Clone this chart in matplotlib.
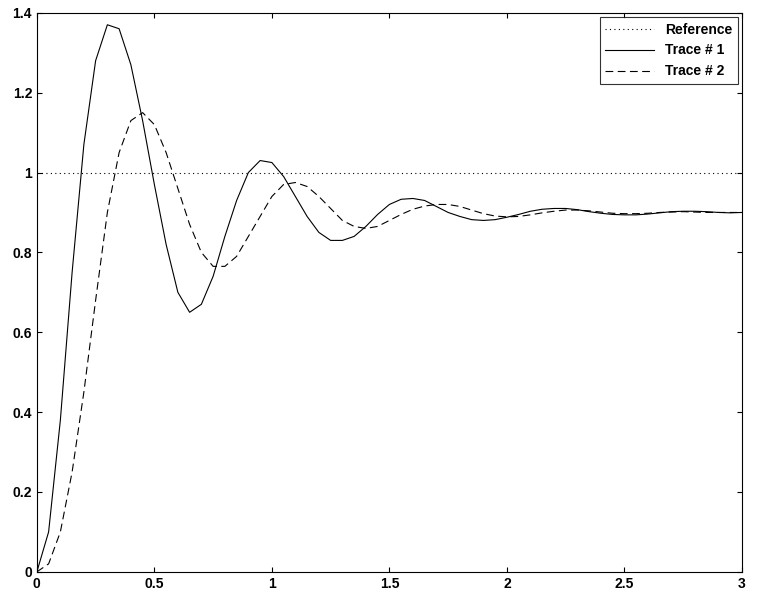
import numpy as np
import matplotlib.pyplot as plt

plt.rcParams['font.family'] = 'Liberation Sans'
plt.rcParams['font.size'] = 10

t = np.round(np.arange(0, 3.0001, 0.05), 2)

trace1 = [0, 0.1, 0.38, 0.75, 1.07, 1.28, 1.37, 1.36, 1.27, 1.13,
          0.97, 0.82, 0.70, 0.65, 0.67, 0.74, 0.84, 0.93, 1.00, 1.03,
          1.025, 0.99, 0.94, 0.89, 0.85, 0.83, 0.83, 0.84, 0.865, 0.895,
          0.92, 0.933, 0.935, 0.93, 0.915, 0.90, 0.89, 0.882, 0.88, 0.882,
          0.888, 0.895, 0.903, 0.908, 0.91, 0.91, 0.907, 0.902, 0.898, 0.895,
          0.894, 0.894, 0.896, 0.899, 0.902, 0.903, 0.903, 0.902, 0.90, 0.899,
          0.90]

trace2 = [0, 0.02, 0.1, 0.25, 0.45, 0.68, 0.9, 1.05, 1.13, 1.15,
          1.12, 1.05, 0.96, 0.87, 0.80, 0.765, 0.765, 0.79, 0.84, 0.89,
          0.94, 0.97, 0.975, 0.965, 0.94, 0.91, 0.88, 0.865, 0.86, 0.865,
          0.88, 0.895, 0.908, 0.916, 0.92, 0.92, 0.915, 0.906, 0.897, 0.891,
          0.889, 0.89, 0.894, 0.899, 0.903, 0.906, 0.906, 0.904, 0.901, 0.898,
          0.897, 0.897, 0.898, 0.90, 0.901, 0.902, 0.901, 0.90, 0.90, 0.90,
          0.90]

reference = [1, 1]
t_ref = [0, 3]

fig = plt.figure(figsize=(7.68, 6.09), dpi=100)
ax = fig.add_axes([0.048, 0.061, 0.918, 0.918])
ax.plot(t_ref, reference, color='k', ls=(0, (1, 3)), lw=0.8, label='Reference')
ax.plot(t, trace1, 'k-', lw=0.8, label='Trace # 1')
ax.plot(t, trace2, color='k', ls=(0, (7, 4)), lw=0.8, label='Trace # 2')
ax.set_xlim(0, 3)
ax.set_ylim(0, 1.4)
ax.set_xticks([0, 0.5, 1, 1.5, 2, 2.5, 3])
ax.set_xticklabels(['0', '0.5', '1', '1.5', '2', '2.5', '3'])
ax.set_yticks(np.arange(0, 1.41, 0.2))
ax.set_yticklabels(['0', '0.2', '0.4', '0.6', '0.8', '1', '1.2', '1.4'])
ax.tick_params(direction='in', top=True, right=True, labelsize=10)
for lab in ax.get_xticklabels() + ax.get_yticklabels():
    lab.set_fontweight('bold')
leg = ax.legend(loc='upper right', fancybox=False, edgecolor='k',
                handlelength=3.5, borderaxespad=0.3, prop={'weight': 'bold', 'size': 10})
leg.get_frame().set_linewidth(0.8)
fig.savefig('out.png')
